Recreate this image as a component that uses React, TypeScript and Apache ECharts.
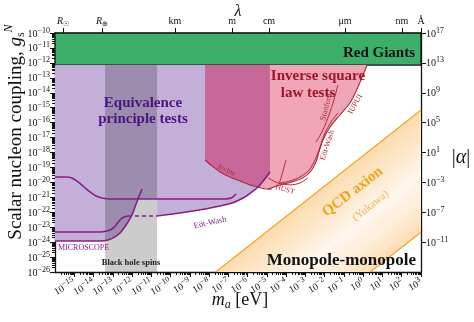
import React, { useEffect, useRef } from "react";
import * as echarts from "echarts";

const FONT = "'Liberation Serif', 'DejaVu Serif', serif";

// ---- axis ticks (log10 values) ----
const xTicks = [-16, -15, -14, -13, -12, -11, -10, -9, -8, -7, -6, -5, -4, -3, -2, -1, 0, 1, 2, 3];
const yTicks = [-26, -25, -24, -23, -22, -21, -20, -19, -18, -17, -16, -15, -14, -13, -12, -11, -10];
const alphaTicks = [-11, -7, -3, 1, 5, 9, 13, 17];
const lambdaTicks = [-15.58, -13.56, -9.77, -6.81, -4.89, -0.945, 2.01, 3.0];
const lambdaLabels = ["{i|R}{sub|☉}", "{i|R}{sub|⊕}", "km", "m", "cm", "μm", "nm", "Å"];

// ---- regions: [log10 m_a/eV, log10 g] ----
const redGiants = [[-16, -10], [3, -10], [3, -12.15], [-16, -12.15]];
const epRegion = [
  [-16, -12.15], [-5.46, -12.15], [-5.46, -20.31], [-5.77, -20.64], [-6.14, -20.98], [-6.81, -21.38],
  [-8.21, -21.78], [-9.51, -22.05], [-10.7, -22.25], [-10.7, -21.11], [-11.69, -21.11], [-11.85, -21.65],
  [-12.0, -22.18], [-12.21, -22.65], [-12.42, -23.05], [-12.63, -23.39], [-12.89, -23.65], [-13.25, -23.86],
  [-13.66, -23.92], [-16, -23.92],
];
const irvineRegion = [
  [-8.21, -12.15], [-4.84, -12.15], [-4.84, -19.3], [-5.15, -19.84], [-5.46, -20.31], [-5.88, -20.17],
  [-6.4, -19.91], [-6.92, -19.64], [-7.43, -19.3], [-7.85, -18.9], [-8.21, -18.5],
];
const islRegion = [
  [-4.84, -12.15], [0.2, -12.15], [-0.01, -12.81], [-0.27, -13.61], [-0.69, -14.69], [-1.21, -15.49],
  [-1.72, -16.29], [-2.09, -17.16], [-2.3, -17.97], [-2.45, -18.63], [-2.71, -19.24], [-3.13, -19.7],
  [-3.7, -19.97], [-4.32, -20.17], [-4.94, -20.44], [-5.46, -20.31], [-5.15, -19.84], [-4.84, -19.3],
];
const bhSpins = [[-13.4, -12.15], [-10.7, -12.15], [-10.7, -26], [-13.4, -26]];
const qcdBand = [[-7.66, -26], [3, -15.15], [3, -23.34], [0.37, -26]];

// ---- curves ----
const epLine = [
  [-16, -19.64], [-15.43, -19.64], [-15.12, -19.71], [-14.81, -19.97], [-14.49, -20.31], [-14.18, -20.64],
  [-13.87, -20.91], [-13.56, -21.04], [-13.14, -21.11], [-7.17, -21.11], [-6.81, -21.01], [-6.6, -20.78],
];
const microA = [
  [-16, -23.92], [-13.66, -23.92], [-13.25, -23.86], [-12.89, -23.65], [-12.63, -23.39], [-12.42, -23.05],
  [-12.21, -22.65], [-12.0, -22.18], [-11.85, -21.65], [-11.69, -21.11], [-11.59, -20.78], [-11.48, -20.44],
];
const microB = [
  [-16, -23.32], [-13.66, -23.32], [-13.3, -23.25], [-13.04, -23.12], [-12.83, -22.85], [-12.63, -22.52],
  [-12.42, -22.32], [-12.21, -22.25],
];
const microDash = [[-12.21, -22.25], [-10.7, -22.25]];
const eotWashPurple = [
  [-10.7, -22.25], [-9.51, -22.05], [-8.21, -21.78], [-6.81, -21.38], [-6.14, -20.98], [-5.77, -20.64],
  [-5.46, -20.31], [-5.15, -19.84], [-4.84, -19.3],
];
const irvineLine = [
  [-8.21, -18.5], [-7.85, -18.9], [-7.43, -19.3], [-6.92, -19.64], [-6.4, -19.91], [-5.88, -20.17],
  [-5.46, -20.31], [-5.05, -20.44], [-4.73, -20.44],
];
const iupuiLine = [
  [0.2, -12.15], [-0.01, -12.81], [-0.27, -13.61], [-0.69, -14.69], [-1.21, -15.49], [-1.72, -16.29],
  [-2.09, -17.16], [-2.3, -17.97], [-2.45, -18.63], [-2.71, -19.24], [-3.13, -19.7], [-3.7, -19.97],
  [-4.32, -20.17], [-4.94, -20.44],
];
const stanfordLine = [[-1.31, -13.48], [-1.52, -14.48], [-1.78, -15.49], [-2.09, -16.49], [-2.45, -17.3]];
const eotWashRed = [
  [-1.31, -15.35], [-1.67, -15.96], [-1.98, -16.69], [-2.24, -17.63], [-2.5, -18.5], [-2.81, -19.17],
  [-3.28, -19.64], [-3.8, -19.91], [-4.32, -20.04],
];
const hustLine = [[-4.94, -19.7], [-4.42, -20.04], [-3.8, -20.17], [-3.28, -20.04], [-2.87, -19.7]];
const hustShort = [[-4.01, -18.5], [-4.22, -19.5], [-4.37, -20.1]];
const qcdUpper = [[-7.66, -26], [3, -15.15]];
const qcdLower = [[0.37, -26], [3, -23.34]];

const minorOf = (ticks: number[]) => {
  const out: number[] = [];
  for (let i = 0; i < ticks.length - 1; i++)
    for (let k = 2; k <= 9; k++) out.push(ticks[i] + Math.log10(k));
  return out;
};

const expStr = (v: number) => {
  const r = Math.round(v);
  return r < 0 ? "−" + Math.abs(r) : String(r);
};
const powFmt = (v: number) => `10{s|${expStr(v)}}`;
const powRich = {
  s: { fontSize: 8, lineHeight: 9, verticalAlign: "top", fontFamily: FONT, color: "#111" },
};

const PURPLE = "#8a1c88";
const DARKRED = "#a8283a";

function poly(pts: number[][], style: any, z: number) {
  return {
    type: "custom",
    coordinateSystem: "cartesian2d",
    xAxisIndex: 0,
    yAxisIndex: 0,
    silent: true,
    z,
    data: [pts[0]],
    encode: { x: 0, y: 1 },
    renderItem: (_p: any, api: any) => ({
      type: "polygon",
      shape: { points: pts.map((p) => api.coord(p)) },
      style,
    }),
  };
}

function curve(pts: number[][], color: string, width: number, z: number, dashed = false, smooth: number | boolean = 0.3) {
  return {
    type: "line",
    data: pts,
    xAxisIndex: 0,
    yAxisIndex: 0,
    symbol: "none",
    smooth,
    silent: true,
    z,
    lineStyle: { color, width, type: dashed ? [4, 3] : "solid" },
  };
}

function txt(text: string, x: number, y: number, o: any = {}) {
  return {
    type: "text",
    x,
    y,
    rotation: o.rot || 0,
    z: 100,
    silent: true,
    style: {
      text,
      fill: o.color || "#111",
      fontFamily: FONT,
      fontSize: o.size || 10,
      fontWeight: o.bold ? "bold" : "normal",
      fontStyle: o.italic ? "italic" : "normal",
      align: o.align || "center",
      verticalAlign: "middle",
      rich: o.rich,
    },
  };
}

export default function App() {
  const ref = useRef<HTMLDivElement>(null);
  useEffect(() => {
    const chart = echarts.init(ref.current!, null, { renderer: "svg" });
    const axisLine = { show: true, onZero: false, lineStyle: { color: "#111", width: 1.3 } };
    const noLine = { show: false, onZero: false };
    const labelBase = { fontFamily: FONT, fontSize: 10, color: "#111", lineHeight: 14 };
    const option: any = {
      animation: false,
      grid: { left: 55, right: 53, top: 33, bottom: 50 },
      xAxis: [
        {
          type: "value", min: -16, max: 3, interval: 1, position: "bottom",
          axisLine, splitLine: { show: false },
          axisTick: { show: true, length: 5, lineStyle: { color: "#111" } },
          axisLabel: { ...labelBase, rotate: 30, margin: 9, formatter: powFmt, rich: powRich },
        },
        {
          type: "value", min: -16, max: 3, position: "bottom",
          axisLine: noLine, splitLine: { show: false },
          axisTick: { show: true, length: 3, customValues: minorOf(xTicks), lineStyle: { color: "#111" } },
          axisLabel: { show: false },
        },
        {
          type: "value", min: -16, max: 3, position: "top",
          axisLine, splitLine: { show: false },
          axisTick: { show: true, length: 5, customValues: lambdaTicks, lineStyle: { color: "#111" } },
          axisLabel: {
            ...labelBase, margin: 6, customValues: lambdaTicks,
            formatter: (v: number) => {
              const i = lambdaTicks.findIndex((t) => Math.abs(t - v) < 1e-6);
              return i >= 0 ? lambdaLabels[i] : "";
            },
            rich: {
              i: { fontStyle: "italic", fontFamily: FONT, fontSize: 10, color: "#111" },
              sub: { fontSize: 7, verticalAlign: "bottom", lineHeight: 8, fontFamily: "'DejaVu Sans', sans-serif", color: "#111" },
            },
          },
        },
      ],
      yAxis: [
        {
          type: "value", min: -26, max: -10, interval: 1, position: "left",
          axisLine, splitLine: { show: false },
          axisTick: { show: true, length: 5, lineStyle: { color: "#111" } },
          axisLabel: { ...labelBase, margin: 5, formatter: powFmt, rich: powRich },
        },
        {
          type: "value", min: -26, max: -10, position: "left",
          axisLine: noLine, splitLine: { show: false },
          axisTick: { show: true, length: 3, customValues: minorOf(yTicks), lineStyle: { color: "#111" } },
          axisLabel: { show: false },
        },
        {
          type: "value", min: -15, max: 17, position: "right",
          axisLine, splitLine: { show: false },
          axisTick: { show: true, length: 5, customValues: alphaTicks, lineStyle: { color: "#111" } },
          axisLabel: { ...labelBase, margin: 5, customValues: alphaTicks, formatter: powFmt, rich: powRich },
        },
      ],
      series: [
        poly(qcdBand, {
          fill: new echarts.graphic.LinearGradient(0, 0, 1, 1, [
            { offset: 0.5, color: "#fcdcae" },
            { offset: 0.6, color: "#fde8cc" },
            { offset: 0.7, color: "#fff6ee" },
            { offset: 0.8, color: "#feebd3" },
            { offset: 0.88, color: "#fcdcb0" },
          ]),
        }, 1),
        poly(redGiants, { fill: "#3daf6b", stroke: "#111", lineWidth: 1.3 }, 2),
        poly(epRegion, { fill: "#c4afd9" }, 2),
        poly(islRegion, { fill: "#f1a6b8" }, 3),
        poly(irvineRegion, { fill: "#c8689a" }, 4),
        poly(bhSpins, { fill: "rgba(0,0,0,0.2)" }, 5),
        curve(qcdUpper, "#f0a52e", 1.2, 6, false, false),
        curve(qcdLower, "#f0a52e", 1.2, 6, false, false),
        curve(iupuiLine, DARKRED, 1.1, 7),
        curve(irvineLine, DARKRED, 1.1, 7),
        curve(stanfordLine, DARKRED, 1, 7),
        curve(eotWashRed, DARKRED, 1, 7),
        curve(hustLine, DARKRED, 1, 7),
        curve(hustShort, DARKRED, 1, 7),
        curve(epLine, PURPLE, 1.6, 8),
        curve(microA, PURPLE, 1.6, 8),
        curve(microB, PURPLE, 1.6, 8),
        curve(microDash, PURPLE, 1.6, 8, true, false),
        curve(eotWashPurple, PURPLE, 1.6, 8),
      ],
      graphic: [
        txt("Red Giants", 415, 52, { bold: true, size: 15, align: "right" }),
        txt("Equivalence", 143, 102, { bold: true, size: 15, color: "#4a1486" }),
        txt("principle tests", 143, 118, { bold: true, size: 15, color: "#4a1486" }),
        txt("Inverse square", 318, 75, { bold: true, size: 15, color: "#a0142e" }),
        txt("law tests", 308, 92, { bold: true, size: 15, color: "#a0142e" }),
        txt("Monopole-monopole", 416, 259, { bold: true, size: 17, align: "right" }),
        txt("Black hole spins", 131, 262, { bold: true, size: 8.5, color: "#222" }),
        txt("MICROSCOPE", 58, 247, { size: 8, color: PURPLE, align: "left" }),
        txt("Eöt-Wash", 210, 222, { size: 8.5, color: PURPLE, rot: 0.21 }),
        txt("Irvine", 227, 170, { size: 8, color: DARKRED, rot: -0.44 }),
        txt("HUST", 285, 189, { size: 7.5, color: DARKRED, rot: -0.26 }),
        txt("Eöt-Wash", 327, 145, { size: 8, color: DARKRED, rot: 1.26 }),
        txt("Stanford", 326, 107, { size: 8, color: DARKRED, rot: 1.3 }),
        txt("IUPUI", 355, 104, { size: 8, color: DARKRED, rot: 1.05 }),
        txt("QCD axion", 352, 191, { bold: true, size: 15, color: "#f2a21c", rot: 0.66 }),
        txt("(Yukawa)", 370, 205, { size: 11, color: "#f0b552", rot: 0.66 }),
        txt("λ", 238, 10, { size: 16, italic: true }),
        txt("|{i|α}|", 461, 156, {
          size: 20,
          rich: { i: { fontStyle: "italic", fontSize: 20, fontFamily: FONT, fill: "#111" } },
        }),
        txt("{i|m}{sub|a} [eV]", 240, 299, {
          size: 18,
          rich: {
            i: { fontStyle: "italic", fontSize: 18, fontFamily: FONT, fill: "#111", lineHeight: 22 },
            sub: { fontStyle: "italic", fontSize: 12, fontFamily: FONT, fill: "#111", verticalAlign: "bottom", lineHeight: 14 },
          },
        }),
        txt("Scalar nucleon coupling, {i|g}{sub|s}{sup|N}", 14, 132, {
          size: 19, rot: Math.PI / 2,
          rich: {
            i: { fontStyle: "italic", fontSize: 19, fontFamily: FONT, fill: "#111", lineHeight: 24 },
            sub: { fontSize: 12, fontFamily: FONT, fill: "#111", verticalAlign: "bottom", lineHeight: 12 },
            sup: { fontStyle: "italic", fontSize: 12, fontFamily: FONT, fill: "#111", verticalAlign: "top", lineHeight: 12 },
          },
        }),
      ],
    };
    chart.setOption(option);
    return () => chart.dispose();
  }, []);
  return <div ref={ref} style={{ position: "fixed", left: 0, top: 0, width: 474, height: 322 }} />;
}
